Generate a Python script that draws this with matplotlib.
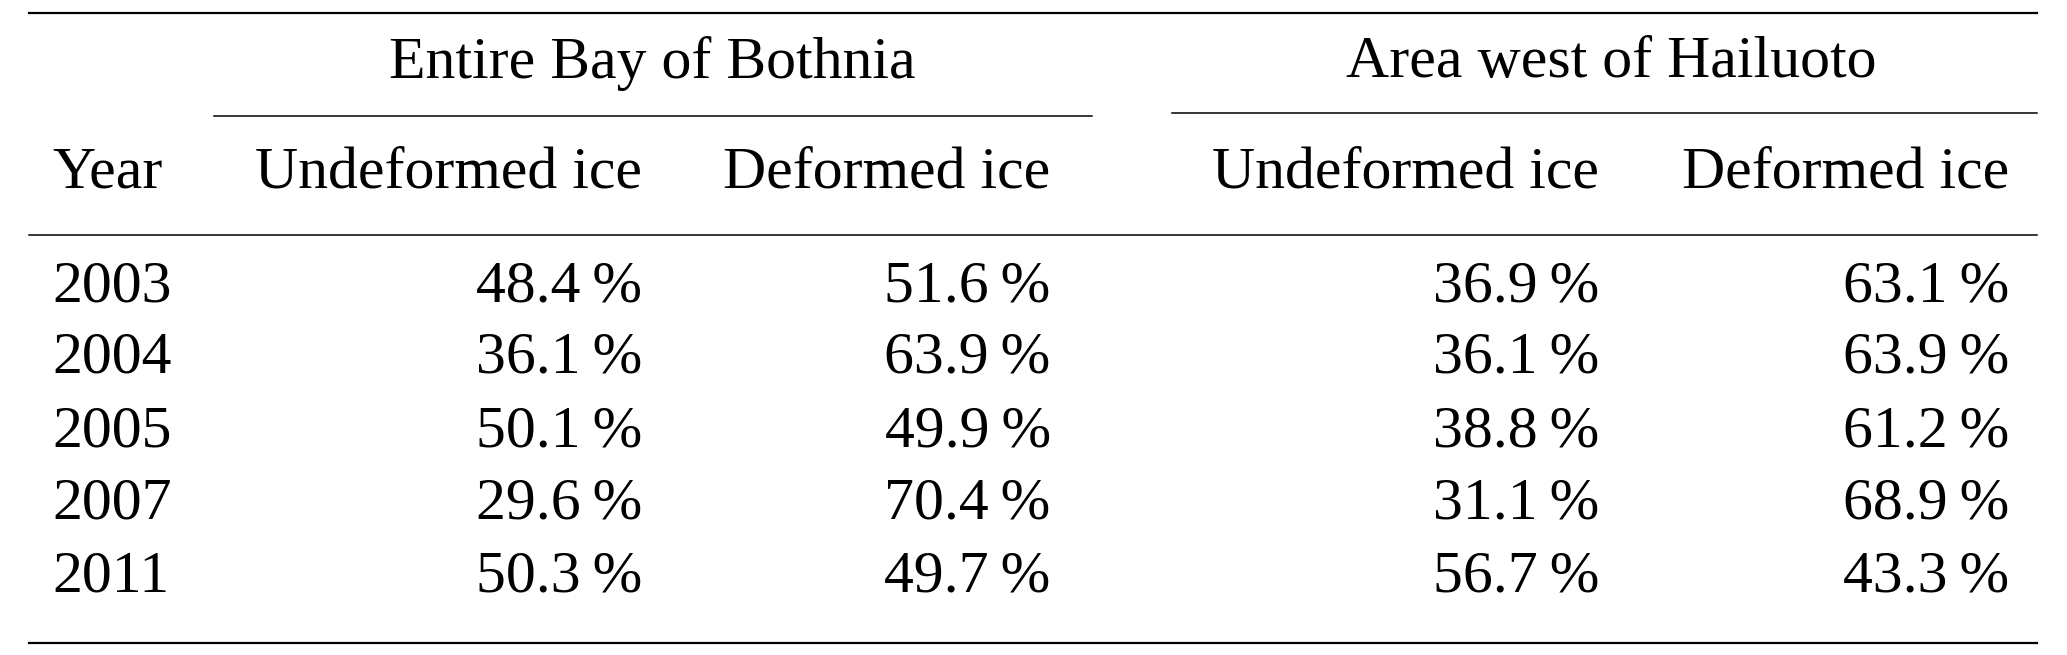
import matplotlib
matplotlib.use("Agg")
import matplotlib.pyplot as plt
from matplotlib.lines import Line2D

years = ["2003", "2004", "2005", "2007", "2011"]
bay_undeformed = [48.4, 36.1, 50.1, 29.6, 50.3]
bay_deformed = [51.6, 63.9, 49.9, 70.4, 49.7]
hailuoto_undeformed = [36.9, 36.1, 38.8, 31.1, 56.7]
hailuoto_deformed = [63.1, 63.9, 61.2, 68.9, 43.3]
group_labels = ["Entire Bay of Bothnia", "Area west of Hailuoto"]
column_labels = ["Undeformed ice", "Deformed ice", "Undeformed ice", "Deformed ice"]

W, H = 1568.0, 497.0  # layout measured on a 1568-wide copy


def fx(x):
    return x / W


def fy(y):
    return 1 - y / H


plt.rcParams["font.family"] = ["Liberation Serif", "DejaVu Serif"]
fig = plt.figure(figsize=(20.67, 6.55), dpi=100)
fs = 43


def rule(x0, x1, y, lw):
    fig.add_artist(Line2D([fx(x0), fx(x1)], [fy(y), fy(y)], color="black", lw=lw))


rule(22, 1545, 10, 1.6)
rule(162, 828, 88, 1.1)
rule(889, 1545, 86, 1.1)
rule(22, 1545, 178, 1.1)
rule(22, 1545, 488, 1.6)

fig.text(fx(495), fy(48), group_labels[0], ha="center", va="center", fontsize=fs)
fig.text(fx(1222), fy(48), group_labels[1], ha="center", va="center", fontsize=fs)

fig.text(fx(40), fy(132), "Year", ha="left", va="center", fontsize=fs)
col_right = [487, 797, 1213, 1524]
col_left = [193, 548, 920, 1276]
for lab, x0, x1 in zip(column_labels, col_left, col_right):
    fig.text(fx((x0 + x1) / 2), fy(132), lab, ha="center", va="center", fontsize=fs)

row_y = [218, 272, 328, 383, 438]
columns = [bay_undeformed, bay_deformed, hailuoto_undeformed, hailuoto_deformed]
for i, y in enumerate(row_y):
    fig.text(fx(40), fy(y), years[i], ha="left", va="center", fontsize=fs)
    for vals, xr in zip(columns, col_right):
        fig.text(fx(xr), fy(y), f"{vals[i]:.1f}\u2009%", ha="right", va="center",
                 fontsize=fs)

fig.savefig("out.png", dpi=100)
